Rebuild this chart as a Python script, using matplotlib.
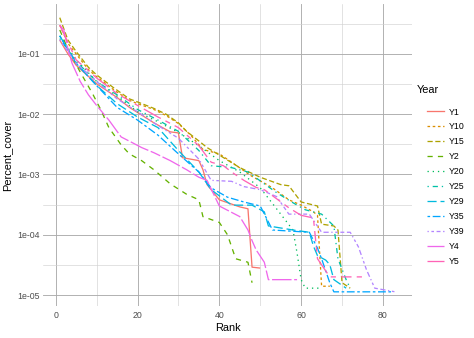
import numpy as np
import matplotlib.pyplot as plt
from matplotlib.lines import Line2D
from matplotlib.ticker import FixedLocator, NullFormatter

plt.rcParams['font.family'] = ['Liberation Sans', 'DejaVu Sans']

# rank / percent cover per survey year
years = ["Y1", "Y10", "Y15", "Y2", "Y20", "Y25", "Y29", "Y35", "Y39", "Y4", "Y5"]

rank_y1 = [1, 3, 5, 10, 15, 18, 21, 24, 28, 30, 31, 35, 36, 37, 38, 40, 45, 47, 48, 50]
cover_y1 = [0.17, 0.10, 0.065, 0.032, 0.019, 0.013, 0.0097, 0.0072, 0.0051, 0.0049, 0.0019,
            0.0017, 0.0012, 0.00068, 0.00056, 0.00038, 0.00029, 0.00027, 2.9e-05, 2.8e-05]

rank_y10 = [1, 3, 5, 8, 10, 14, 18, 20, 24, 27, 30, 33, 36, 40, 43, 48, 51, 53, 57, 60, 63, 64, 65, 67]
cover_y10 = [0.30, 0.15, 0.10, 0.055, 0.042, 0.026, 0.017, 0.015, 0.012, 0.0095, 0.0070, 0.0045,
             0.0026, 0.0022, 0.0016, 0.00093, 0.00072, 0.00060, 0.00038, 0.00031, 0.00024,
             0.00021, 1.4e-05, 1.4e-05]

rank_y15 = [1, 3, 5, 8, 10, 14, 18, 20, 24, 27, 30, 32, 35, 37, 40, 45, 50, 55, 57, 60, 64, 65,
            68, 69, 70, 72]
cover_y15 = [0.40, 0.17, 0.11, 0.06, 0.045, 0.028, 0.018, 0.016, 0.0125, 0.010, 0.0072, 0.0052,
             0.0036, 0.0028, 0.0021, 0.0013, 0.0009, 0.00068, 0.00065, 0.00035, 0.0003, 0.00015,
             0.00014, 0.00012, 1.6e-05, 1.3e-05]

rank_y2 = [1, 3, 6, 9, 11, 13, 16, 18, 21, 24, 28, 32, 35, 36, 40, 42, 44, 47, 48]
cover_y2 = [0.25, 0.12, 0.05, 0.022, 0.012, 0.006, 0.0031, 0.0022, 0.0017, 0.0012, 0.0007,
            0.00047, 0.00038, 0.0002, 0.00016, 0.0001, 4e-05, 3.5e-05, 1.6e-05]

rank_y20 = [1, 5, 10, 15, 20, 25, 30, 35, 40, 45, 50, 53, 56, 58, 59, 60, 61, 65]
cover_y20 = [0.2, 0.08, 0.035, 0.02, 0.011, 0.0075, 0.005, 0.003, 0.0017, 0.0011, 0.0006,
             0.00033, 0.00018, 0.00012, 5e-05, 1.8e-05, 1.3e-05, 1.3e-05]

rank_y25 = [1, 5, 10, 15, 20, 25, 30, 35, 38, 43, 47, 51, 54, 58, 61, 65, 68, 69, 71, 72]
cover_y25 = [0.18, 0.075, 0.035, 0.021, 0.012, 0.008, 0.0052, 0.0025, 0.0014, 0.0013, 0.0011,
             0.0007, 0.0005, 0.00034, 0.00026, 0.00022, 0.00014, 4e-05, 1.8e-05, 1.3e-05]

rank_y29 = [1, 5, 10, 15, 20, 25, 30, 35, 38, 43, 48, 51, 52, 58, 62, 63, 64, 66, 67, 68, 71]
cover_y29 = [0.2, 0.07, 0.03, 0.015, 0.009, 0.006, 0.0025, 0.0011, 0.00056, 0.00031, 0.00031,
             0.00024, 0.00014, 0.00012, 0.00011, 6.5e-05, 4.5e-05, 3.8e-05, 3.2e-05, 1.8e-05,
             1.3e-05]

rank_y35 = [1, 5, 10, 15, 20, 25, 30, 35, 38, 42, 46, 50, 53, 62, 64, 65, 67, 68, 82]
cover_y35 = [0.2, 0.07, 0.03, 0.013, 0.008, 0.0045, 0.0022, 0.0011, 0.0006, 0.00042, 0.00035,
             0.0003, 0.00012, 0.00011, 6e-05, 4e-05, 1.6e-05, 1.13e-05, 1.13e-05]

rank_y39 = [1, 5, 10, 15, 20, 25, 30, 35, 38, 43, 46, 50, 54, 57, 62, 65, 72, 74, 76, 78, 83]
cover_y39 = [0.17, 0.07, 0.035, 0.018, 0.011, 0.0065, 0.004, 0.0018, 0.0008, 0.00077, 0.00063,
             0.00056, 0.00043, 0.00022, 0.00022, 0.00011, 0.00011, 6.3e-05, 2.6e-05, 1.3e-05,
             1.13e-05]

rank_y4 = [1, 2, 3, 4, 6, 8, 10, 13, 16, 19, 21, 24, 28, 32, 35, 37, 40, 45, 47, 48, 49, 51, 52, 59]
cover_y4 = [0.30, 0.25, 0.12, 0.07, 0.035, 0.021, 0.014, 0.008, 0.0042, 0.0033, 0.0028, 0.0023,
            0.0017, 0.0012, 0.0009, 0.0008, 0.0003, 0.0002, 0.00012, 8e-05, 5.6e-05, 3.5e-05,
            1.8e-05, 1.8e-05]

rank_y5 = [1, 5, 10, 15, 20, 25, 30, 35, 38, 41, 43, 46, 49, 51, 57, 60, 63, 64, 67, 75]
cover_y5 = [0.3, 0.08, 0.04, 0.022, 0.014, 0.009, 0.006, 0.003, 0.0016, 0.0014, 0.0011, 0.0008,
            0.00061, 0.00056, 0.00028, 0.00021, 0.00019, 4e-05, 2e-05, 2e-05]

ranks = [rank_y1, rank_y10, rank_y15, rank_y2, rank_y20, rank_y25, rank_y29, rank_y35,
         rank_y39, rank_y4, rank_y5]
covers = [cover_y1, cover_y10, cover_y15, cover_y2, cover_y20, cover_y25, cover_y29, cover_y35,
          cover_y39, cover_y4, cover_y5]

# ggplot hue palette and default linetype sequence
colors = ["#F8766D", "#DB8E00", "#AEA200", "#64B200", "#00BD5C", "#00C1A7",
          "#00BADE", "#00A6FF", "#B385FF", "#EF67EB", "#FF63B6"]
dash_hex = ["solid", "22", "42", "44", "13", "1343", "73", "2262", "12223242", "F282", "F4448444"]


def hex_dashes(code):
    if code == "solid":
        return None
    return [int(c, 16) for c in code]


fig = plt.figure(figsize=(474 / 72, 338 / 72), dpi=72)
ax = fig.add_axes([43 / 474, 1 - 305.7 / 338, (412 - 43) / 474, (305.7 - 4.3) / 338])

lw = 1.3
handles = []
for yr, r, c, col, dh in zip(years, ranks, covers, colors, dash_hex):
    line, = ax.plot(r, c, color=col, lw=lw, solid_capstyle='butt', dash_capstyle='butt')
    d = hex_dashes(dh)
    if d is not None:
        line.set_dashes(d)
    h = Line2D([], [], color=col, lw=lw)
    if d is not None:
        h.set_dashes(d)
    handles.append(h)

ax.set_yscale('log')
ax.set_xlim(-3.1, 87.1)
ax.set_ylim(10 ** -5.177, 10 ** -0.176)

major_y = [1e-5, 1e-4, 1e-3, 1e-2, 1e-1]
ax.yaxis.set_major_locator(FixedLocator(major_y))
ax.yaxis.set_minor_locator(FixedLocator([10 ** -4.5, 10 ** -3.5, 10 ** -2.5, 10 ** -1.5, 10 ** -0.5]))
ax.yaxis.set_minor_formatter(NullFormatter())
ax.set_yticklabels(["1e-05", "1e-04", "1e-03", "1e-02", "1e-01"])
ax.xaxis.set_major_locator(FixedLocator([0, 20, 40, 60, 80]))
ax.xaxis.set_minor_locator(FixedLocator([10, 30, 50, 70]))

ax.grid(which='major', color='#ABABAB', lw=0.9)
ax.grid(which='minor', color='#D0D0D0', lw=0.6)
ax.set_axisbelow(True)
for s in ax.spines.values():
    s.set_visible(False)
ax.tick_params(which='both', length=0, labelsize=8.8, labelcolor='#4D4D4D')
ax.tick_params(axis='x', pad=5)
ax.tick_params(axis='y', pad=3)

ax.set_xlabel("Rank", fontsize=11, labelpad=3)
ax.set_ylabel("Percent_cover", fontsize=11, labelpad=5)

fig.text(417 / 474, 1 - 90 / 338, "Year", fontsize=11, va='center', ha='left')
fig.legend(handles=handles, labels=years, loc='upper left',
           bbox_to_anchor=(419 / 474, 1 - 99.6 / 338), frameon=False, fontsize=8.8,
           handlelength=1.93, handletextpad=0.57, labelspacing=0.675)

fig.savefig("out.png", dpi=72)
